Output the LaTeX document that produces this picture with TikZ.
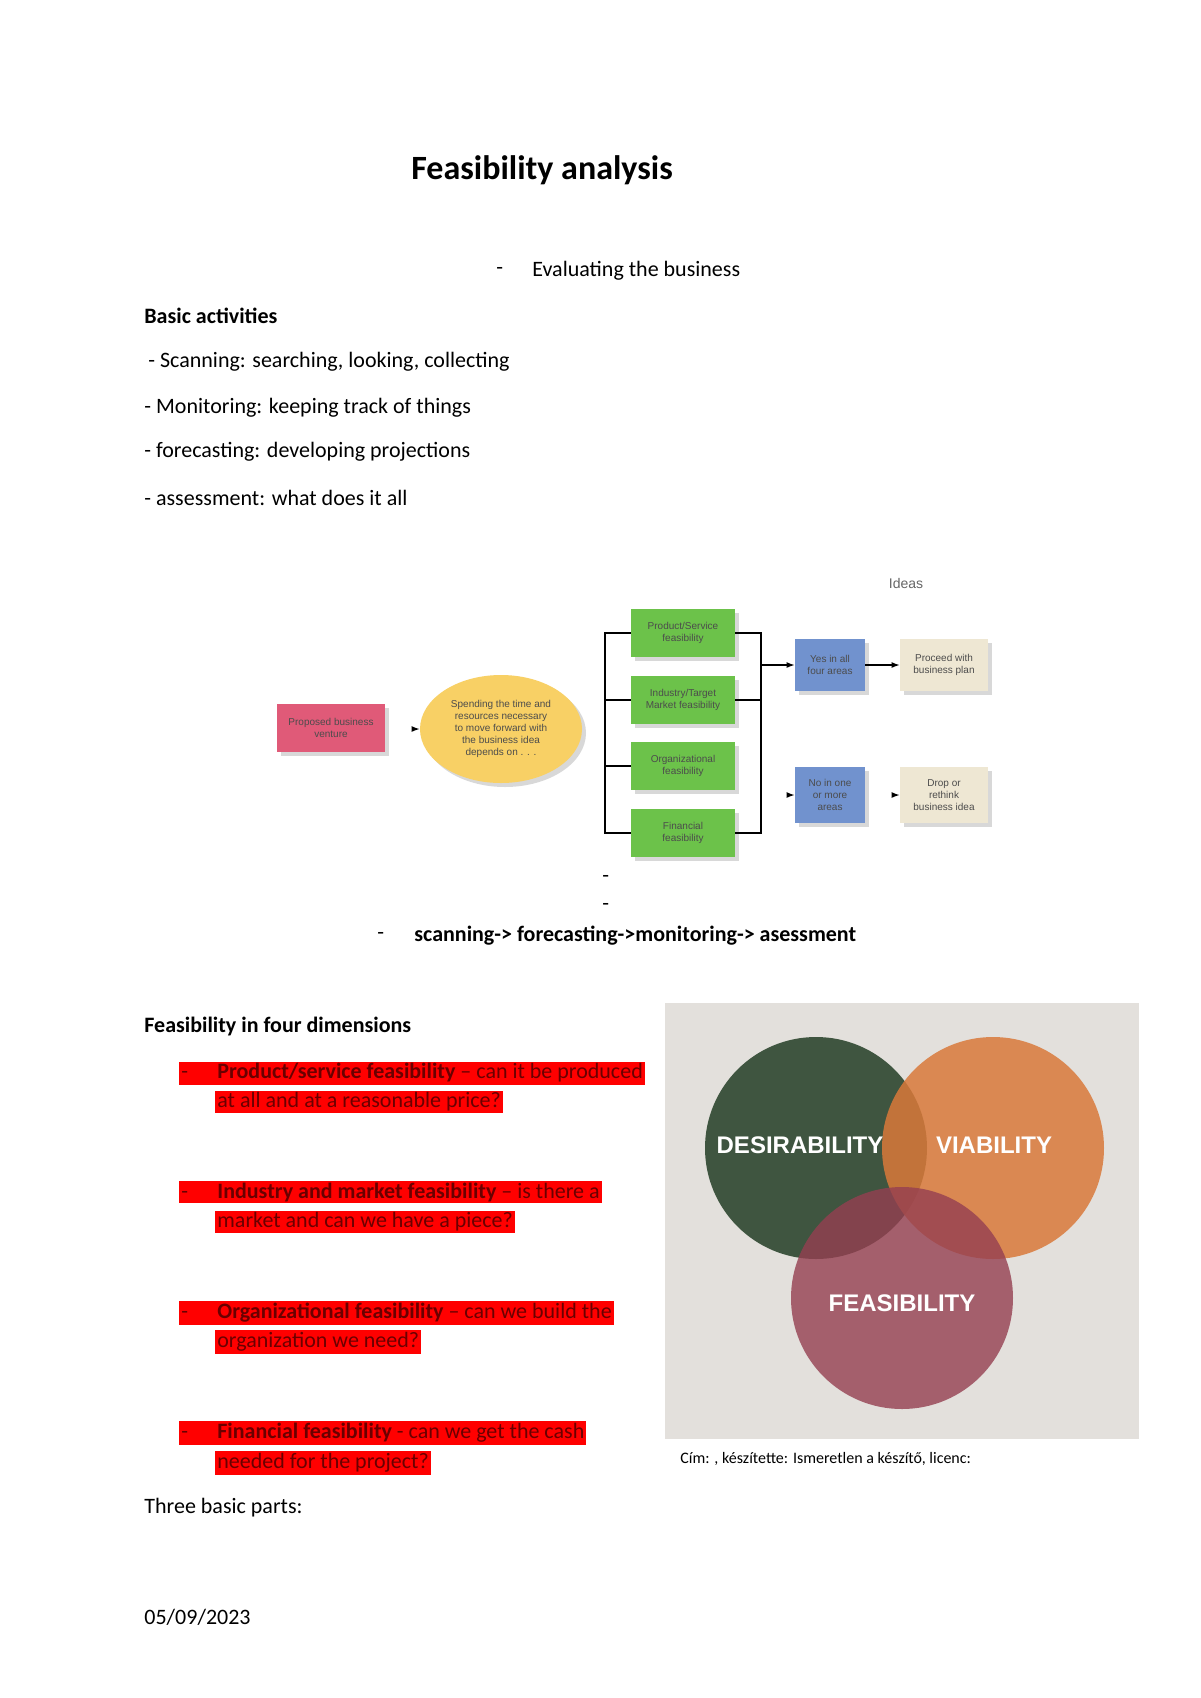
\documentclass[tikz,border=0pt]{standalone}
\usepackage{fontspec}
\setmainfont{Carlito}
\newfontfamily\dsans{Liberation Sans}
\usetikzlibrary{arrows.meta,shadows,shapes.geometric}
\definecolor{gbox}{HTML}{6CC24A}
\definecolor{pbox}{HTML}{E05A78}
\definecolor{ybox}{HTML}{F8D065}
\definecolor{bbox}{HTML}{7192CE}
\definecolor{wbox}{HTML}{EEE7D3}
\definecolor{hltext}{HTML}{6A0000}
\definecolor{vbg}{HTML}{E3E0DC}
\definecolor{vdes}{HTML}{3F5540}
\definecolor{vvia}{HTML}{D9793A}
\definecolor{vfea}{HTML}{953F51}
\tikzset{
 body/.style={anchor=west,inner sep=0pt,font=\fontsize{11}{13}\selectfont},
 bodyb/.style={body,font=\fontsize{11}{13}\selectfont\bfseries},
 dbox/.style={minimum width=52pt,minimum height=24pt,align=center,inner sep=1pt,font=\fontsize{5}{6}\selectfont\dsans,text=black!70,drop shadow={opacity=0.3,shadow xshift=2pt,shadow yshift=-2pt}},
 hl/.style={anchor=west,inner sep=1pt,fill=red,text=hltext,font=\fontsize{11}{13}\selectfont},
 conn/.style={line width=0.6pt},
 arr/.style={conn,-{Latex[length=4pt,width=3pt]}},
 vlab/.style={text=white,font=\dsans\bfseries\fontsize{12}{14}\selectfont}
}
\begin{document}
\begin{tikzpicture}[x=0.5pt,y=-0.5pt]
\useasboundingbox (0,0) rectangle (1200,1698);
\fill[white] (0,0) rectangle (1200,1698);
\node[inner sep=0pt,font=\fontsize{17}{20}\selectfont\bfseries] (title) at (542,170) {Feasibility analysis};
\node[body] (d0) at (496,271) {-};
\node[body] (eval) at (532,271) {Evaluating the business};
\node[bodyb] (ba) at (144,316) {Basic activities};
\node[body] (l1) at (148,362) {- Scanning: searching, looking, collecting};
\node[body] (l2) at (144,408) {- Monitoring: keeping track of things};
\node[body] (l3) at (144,452) {- forecasting: developing projections};
\node[body] (l4) at (144,498) {- assessment: what does it all};
% diagram
\node[font=\dsans\fontsize{7}{8}\selectfont,text=black!60] (ideas) at (906,583) {Ideas};
\node[dbox,fill=pbox,minimum width=54pt] (pv) at (331,728) {Proposed business\\venture};
\node[dbox,fill=ybox,ellipse,minimum width=81pt,minimum height=54pt] (sp) at (501,729) {Spending the time and\\resources necessary\\to move forward with\\the business idea\\depends on . . .};
\node[dbox,fill=gbox] (g1) at (683,633) {Product/Service\\feasibility};
\node[dbox,fill=gbox] (g2) at (683,700) {Industry/Target\\Market feasibility};
\node[dbox,fill=gbox] (g3) at (683,766) {Organizational\\feasibility};
\node[dbox,fill=gbox] (g4) at (683,833) {Financial\\feasibility};
\node[dbox,fill=bbox,minimum width=35pt,minimum height=26pt] (y1) at (830,665) {Yes in all\\four areas};
\node[dbox,fill=bbox,minimum width=35pt,minimum height=28pt] (n1) at (830,795) {No in one\\or more\\areas};
\node[dbox,fill=wbox,minimum width=44pt,minimum height=26pt] (pr) at (944,665) {Proceed with\\business plan};
\node[dbox,fill=wbox,minimum width=44pt,minimum height=28pt] (dr) at (944,795) {Drop or\\rethink\\business idea};
\coordinate (bl1) at (605,633); \coordinate (bl4) at (605,833);
\coordinate (br1) at (761,633); \coordinate (br4) at (761,833);
\coordinate (bm) at (761,665);
\draw[conn] (g1.west) -- (bl1) -- (bl4) -- (g4.west);
\draw[conn] (g2.west) -- (605,700); \draw[conn] (g3.west) -- (605,766);
\draw[conn] (g1.east) -- (br1) -- (br4) -- (g4.east);
\draw[conn] (g2.east) -- (761,700);
\draw[arr] (bm) -- (y1.west);
\draw[arr] (y1.east) -- (pr.west);
\coordinate (a0) at (412,729);
\draw[arr] (a0) -- (sp.west|-a0);
\draw[arr] ([xshift=-2pt]n1.west) -- (n1.west);
\draw[arr] ([xshift=-2pt]dr.west) -- (dr.west);
\node[body] (d1) at (602,879) {-};
\node[body] (d2) at (602,907) {-};
\node[body] (d3) at (377,936) {-};
\node[bodyb] (sc) at (414,936) {scanning-> forecasting->monitoring-> asessment};
% four dimensions
\node[bodyb] (fd) at (144,1026) {Feasibility in four dimensions};
\node[hl] (h1) at (179,1073) {\hbox to 18pt{-\hfil}\textbf{Product/service feasibility} – can it be produced};
\node[hl] (h1b) at (215,1102) {at all and at a reasonable price?};
\node[hl] (h2) at (179,1192) {\hbox to 18pt{-\hfil}\textbf{Industry and market feasibility} – is there a};
\node[hl] (h2b) at (215,1222) {market and can we have a piece?};
\node[hl] (h3) at (179,1313) {\hbox to 18pt{-\hfil}\textbf{Organizational feasibility} – can we build the};
\node[hl] (h3b) at (215,1342) {organization we need?};
\node[hl] (h4) at (179,1433) {\hbox to 18pt{-\hfil}\textbf{Financial feasibility} - can we get the cash};
\node[hl] (h4b) at (215,1463) {needed for the project?};
\node[body] (tb) at (144,1508) {Three basic parts:};
\node[body] (dt) at (144,1617) {05/09/2023};
% venn
\fill[vbg] (665,1003) rectangle (1139,1439);
\fill[vdes] (816,1148) circle (111);
\fill[vvia,opacity=0.85] (993,1148) circle (111);
\fill[vfea,opacity=0.8] (902,1298) circle (111);
\node[vlab] (vd) at (800,1145) {DESIRABILITY};
\node[vlab] (vv) at (994,1145) {VIABILITY};
\node[vlab] (vf) at (902,1303) {FEASIBILITY};
\node[body,font=\fontsize{8}{10}\selectfont] (cap) at (680,1459) {Cím: , készítette: Ismeretlen a készítő, licenc:};
\end{tikzpicture}
\end{document}
